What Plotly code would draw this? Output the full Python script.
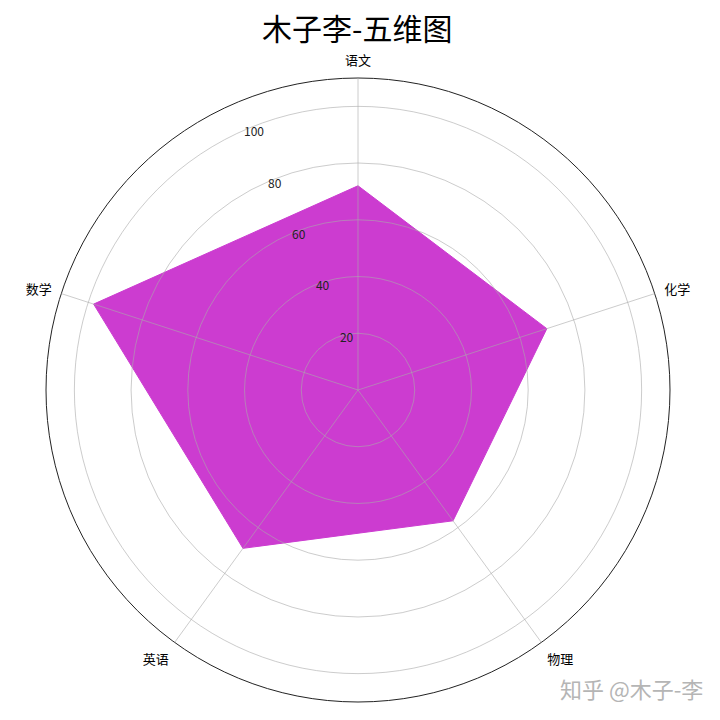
import plotly.graph_objects as go

subjects = ['语文', '数学', '英语', '物理', '化学']
scores = [72, 98, 69, 57, 70]
r_ticks = [20, 40, 60, 80, 100]

font_cn = "Noto Sans CJK SC"
grid_col = 'rgba(170,170,170,0.6)'

ml, mr, mt, mb = 38, 58, 70, 26

fig = go.Figure()
fig.add_trace(go.Scatterpolar(
    r=scores + scores[:1],
    theta=subjects + subjects[:1],
    mode='lines',
    fill='toself',
    fillcolor='rgb(204,60,208)',
    line=dict(color='rgb(204,60,208)', width=1),
    hoverinfo='skip',
    showlegend=False,
    subplot='polar',
))
# empty trace on an overlaid polar so the grid sits above the filled area
fig.add_trace(go.Scatterpolar(
    r=[None] * len(subjects), theta=subjects, mode='lines',
    hoverinfo='skip', showlegend=False, subplot='polar2',
))

common_ang = dict(rotation=90, direction='counterclockwise', type='category',
                  categoryorder='array', categoryarray=subjects)
fig.update_layout(
    width=720, height=720,
    paper_bgcolor='white',
    margin=dict(l=ml, r=mr, t=mt, b=mb),
    title=dict(text='木子李-五维图', x=0.485, xanchor='center', y=0.970, yanchor='middle',
               font=dict(family=font_cn, size=30, color='black')),
    font=dict(family=font_cn, size=13, color='black'),
    polar=dict(
        bgcolor='white',
        domain=dict(x=[0, 1], y=[0, 1]),
        angularaxis=dict(
            **common_ang,
            showline=True, linecolor='#222', linewidth=1, showgrid=False,
            ticks='outside', ticklen=7, tickcolor='rgba(0,0,0,0)',
            tickfont=dict(family=font_cn, size=13, color='black'),
        ),
        radialaxis=dict(range=[0, 110], tickvals=r_ticks, showgrid=False,
                        showline=False, ticks='', showticklabels=False),
    ),
    polar2=dict(
        bgcolor='rgba(0,0,0,0)',
        domain=dict(x=[0, 1], y=[0, 1]),
        angularaxis=dict(
            **common_ang,
            showline=False, showticklabels=False, ticks='',
            gridcolor=grid_col, gridwidth=1,
        ),
        radialaxis=dict(
            range=[0, 110], tickvals=r_ticks, angle=115,
            showline=False, ticks='',
            gridcolor=grid_col, gridwidth=1,
            tickfont=dict(family=font_cn, size=12, color='#222'),
            tickangle=115,
        ),
    ),
    annotations=[dict(text='知乎 @木子-李', xref='paper', yref='paper',
                      x=(697 - ml) / (720 - ml - mr), y=(720 - mb - 680) / (720 - mt - mb),
                      xanchor='right', yanchor='middle', showarrow=False,
                      font=dict(family=font_cn, size=22, color='#b5b5b5'))],
)

fig.write_html("out.html")
